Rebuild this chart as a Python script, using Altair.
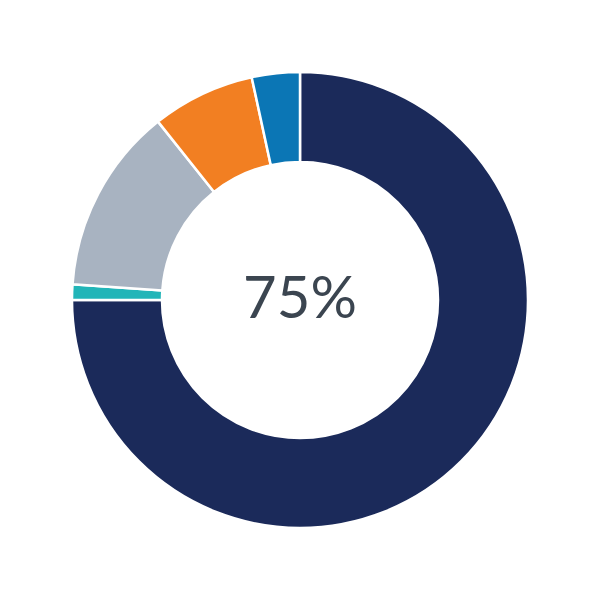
import altair as alt
import pandas as pd

categories = ["A", "B", "C", "D", "E"]
values = [75, 1.1, 13.2, 7.3, 3.4]
colors = ["#1b2a5a", "#22b5b8", "#a8b3c1", "#f27f22", "#0b76b5"]
center_label = "75%"

df = pd.DataFrame({"cat": categories, "value": values, "order": list(range(len(categories)))})

W = 584
arc = alt.Chart(df).mark_arc(outerRadius=228, innerRadius=138, stroke="white", strokeWidth=2.5).encode(
    theta=alt.Theta("value:Q", stack=True),
    order=alt.Order("order:Q"),
    color=alt.Color("cat:N", scale=alt.Scale(domain=categories, range=colors), legend=None),
)

text = alt.Chart(pd.DataFrame({"t": [center_label]})).mark_text(
    font="Lato", fontSize=58, color="#3b4550", baseline="middle", align="center"
).encode(text="t:N", x=alt.value(W / 2), y=alt.value(W / 2 + 1))

chart = (arc + text).properties(
    width=W, height=W, autosize=alt.AutoSizeParams(type="none"), padding=0
).configure_view(stroke=None)

chart.save("out.html", embed_options={"renderer": "svg", "actions": False})
